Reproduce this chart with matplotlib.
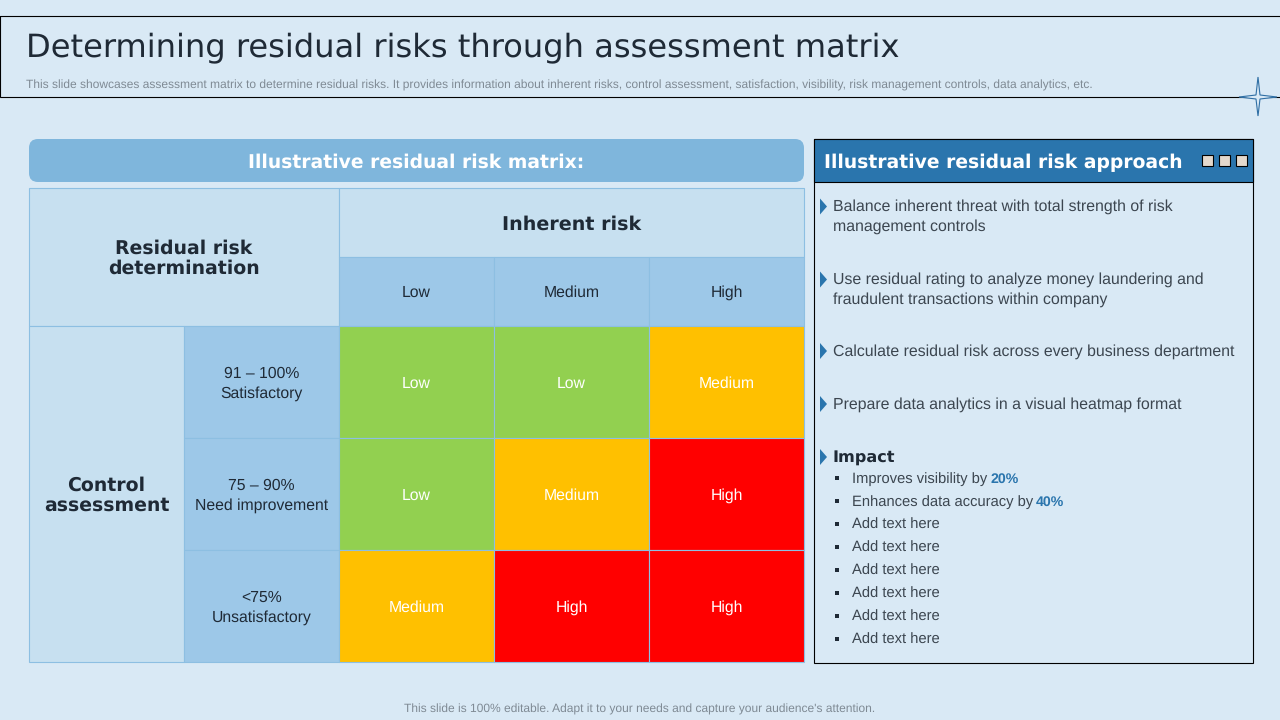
#!/usr/bin/env python
"""Residual risk assessment matrix slide."""

import matplotlib.pyplot as plt
from matplotlib.patches import FancyBboxPatch, Polygon, Rectangle

SANS = 'Liberation Sans'
HEAD = 'DejaVu Sans'

# sizes below are fractional, hinting would snap the text widths
plt.rcParams['text.hinting'] = 'no_hinting'

# --- Data ---
inherent_levels = ['Low', 'Medium', 'High']
control_levels = ['91 – 100%\nSatisfactory', '75 – 90%\nNeed improvement', '<75%\nUnsatisfactory']
row1_ratings = ['Low', 'Low', 'Medium']
row2_ratings = ['Low', 'Medium', 'High']
row3_ratings = ['Medium', 'High', 'High']
approach_points = [
    'Balance inherent threat with total strength of risk\nmanagement controls',
    'Use residual rating to analyze money laundering and\nfraudulent transactions within company',
    'Calculate residual risk across every business department',
    'Prepare data analytics in a visual heatmap format',
]
impact_items = ['Improves visibility by ', 'Enhances data accuracy by ', 'Add text here', 'Add text here',
                'Add text here', 'Add text here', 'Add text here', 'Add text here']
impact_values = ['20%', '40%', '', '', '', '', '', '']

colors = {
    'bg': '#D9E9F5',
    'light': '#C7E0F0',
    'mid': '#9DC8E8',
    'banner': '#7FB6DC',
    'dark': '#2A75AD',
    'grid': '#8DBFE2',
    'text': '#1F2A36',
    'body': '#3C4650',
    'sub': '#7F8A94',
    'Low': '#92D050',
    'Medium': '#FFC000',
    'High': '#FF0000',
}

fig = plt.figure(figsize=(12.8, 7.2), dpi=100, facecolor=colors['bg'])
ax = fig.add_axes([0, 0, 1, 1])
ax.set_xlim(0, 1280)
ax.set_ylim(720, 0)
ax.axis('off')


def cell(x0, y0, x1, y1, color, label=None, textcolor=None, **kw):
    ax.add_patch(Rectangle((x0, y0), x1 - x0, y1 - y0, facecolor=color,
                           edgecolor=colors['grid'], linewidth=0.8))
    if label:
        kw.setdefault('fontsize', 11.3)
        kw.setdefault('family', SANS)
        kw.setdefault('linespacing', 1.4)
        ax.text((x0 + x1) / 2, (y0 + y1) / 2 + 1.5, label, ha='center', va='center',
                color=textcolor or colors['text'], **kw)


def arrow(x, y):
    ax.add_patch(Polygon([(x, y - 8), (x + 7, y), (x, y + 8)], closed=True,
                         facecolor=colors['dark'], edgecolor='none'))


# --- Header ---
ax.add_patch(Rectangle((0, 16), 1290, 80.5, facecolor='none', edgecolor='black', linewidth=0.8))
ax.text(26, 47.5, 'Determining residual risks through assessment matrix', fontsize=23.1,
        family=HEAD, color=colors['text'], va='center', ha='left')
ax.text(26, 85.5, 'This slide showcases assessment matrix to determine residual risks. It provides '
        'information about inherent risks, control assessment, satisfaction, visibility, risk '
        'management controls, data analytics, etc.', fontsize=8.65, family=SANS,
        color=colors['sub'], va='center', ha='left')

# four point star on the header corner
star = [(1258, 77), (1260, 95), (1277, 97), (1260, 99), (1258, 116),
        (1256, 99), (1239, 97), (1256, 95)]
ax.add_patch(Polygon(star, closed=True, facecolor=colors['bg'], edgecolor='#2F6FA5', linewidth=0.8))

# --- Matrix banner ---
ax.add_patch(FancyBboxPatch((29, 139), 775, 43, boxstyle='round,pad=0,rounding_size=9',
                            facecolor=colors['banner'], edgecolor='none'))
ax.text(416.5, 162, 'Illustrative residual risk matrix:', fontsize=13.5, fontweight='bold',
        family=HEAD, color='white', ha='center', va='center')

# --- Matrix table ---
col_x = [339, 494, 649, 804]
row_y = [326, 438, 550, 662]
ratings = [row1_ratings, row2_ratings, row3_ratings]

cell(29, 188, 339, 326, colors['light'], 'Residual risk\ndetermination', fontsize=13.6,
     fontweight='bold', family=HEAD, linespacing=1.15)
cell(339, 188, 804, 257, colors['light'], 'Inherent risk', fontsize=13.8,
     fontweight='bold', family=HEAD)
cell(29, 326, 184, 662, colors['light'], 'Control\nassessment', fontsize=13.6,
     fontweight='bold', family=HEAD, linespacing=1.15)

for i, level in enumerate(inherent_levels):
    cell(col_x[i], 257, col_x[i + 1], 326, colors['mid'], level)

for r, level in enumerate(control_levels):
    cell(184, row_y[r], 339, row_y[r + 1], colors['mid'], level)
    for c, rating in enumerate(ratings[r]):
        cell(col_x[c], row_y[r], col_x[c + 1], row_y[r + 1], colors[rating], rating, textcolor='white')

# --- Approach panel ---
ax.add_patch(Rectangle((814, 139), 438.5, 523.5, facecolor='none', edgecolor='black', linewidth=0.8))
ax.add_patch(Rectangle((814, 139), 438.5, 43, facecolor=colors['dark'], edgecolor='black', linewidth=0.8))
ax.text(824, 163, 'Illustrative residual risk approach', fontsize=13.5, fontweight='bold',
        family=HEAD, color='white', ha='left', va='center')
for bx in [1202, 1219, 1236]:
    ax.add_patch(Rectangle((bx, 155), 11, 11, facecolor='#E3D8CC', edgecolor='black', linewidth=0.8))

point_y = [216.5, 289.5, 352, 405]
for y, point in zip(point_y, approach_points):
    lines = point.split('\n')
    arrow(820, y - 10 if len(lines) > 1 else y - 1)
    ax.text(833, y, point, fontsize=11.45, family=SANS, color=colors['body'], ha='left',
            va='center', linespacing=1.4)

arrow(820, 457)
ax.text(833, 458, 'Impact', fontsize=11.6, fontweight='bold', family=HEAD,
        color=colors['text'], ha='left', va='center')

impact_y = [478, 501, 524, 547, 570, 593, 616, 639]
for y, item, value in zip(impact_y, impact_items, impact_values):
    ax.add_patch(Rectangle((835, y - 2), 4, 4, facecolor=colors['text'], edgecolor='none'))
    t = ax.text(852, y + 1, item, fontsize=10.6, family=SANS, color=colors['body'], ha='left', va='center')
    if value:
        fig.canvas.draw()
        box = t.get_window_extent()
        ax.text(box.x1 - 1, y + 1, value, fontsize=10.2, family=SANS, fontweight='bold',
                color=colors['dark'], ha='left', va='center')

# --- Footer ---
ax.text(640, 709, "This slide is 100% editable. Adapt it to your needs and capture your audience's attention.",
        fontsize=8.65, family=SANS, color=colors['sub'], ha='center', va='center')

fig.savefig('out.png', dpi=100, facecolor=colors['bg'])
